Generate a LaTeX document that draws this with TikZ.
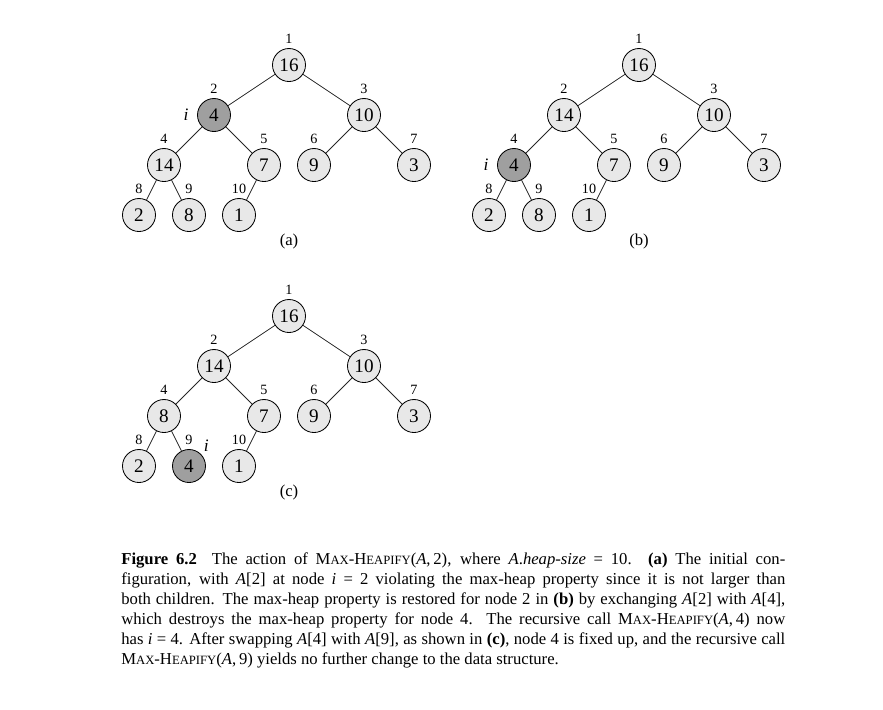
\documentclass[tikz,border=0pt]{standalone}
\usepackage{fontspec}
\setmainfont{Liberation Serif}
\usetikzlibrary{positioning}

\newcommand{\heapify}{M{\fontsize{7.6}{9}\selectfont AX}-H{\fontsize{7.6}{9}\selectfont EAPIFY}}

\begin{document}
\begin{tikzpicture}[
      x=0.6pt, y=0.6pt,
      on grid,
      node distance = 30pt and 45pt,
      key/.style = {
        circle,
        draw,
        line width=0.5pt,
        fill=gray!18,
        minimum size=19.8pt,
        inner sep=0pt,
        font=\fontsize{11.5}{12}\selectfont
      },
      hot/.style = {key, fill=gray!75},
      every label/.style = {font=\fontsize{8.5}{9}\selectfont, inner sep=0.5pt},
      label distance=1.8pt,
      ivar/.style = {font=\itshape\fontsize{10.5}{12}\selectfont, label distance=4.4pt},
      sub/.style = {font=\fontsize{10}{12}\selectfont},
      edge/.style = {line width=0.45pt, black!85},
      caption/.style = {
        anchor=north west,
        inner sep=0pt,
        text width=398.4pt,
        align=justify,
        font=\fontsize{10}{12}\selectfont
      }
    ]

    \useasboundingbox (0,0) rectangle (883,-709);

    % (a)
    \node[key, label=above:1]                              (a1)  at (289,-65) {16};
    \node[hot, below left=of a1, label=above:2, label={[ivar]left:i}] (a2) {4};
    \node[key, below right=of a1, label=above:3]           (a3)  {10};
    \node[key, below left=30pt and 30pt of a2, label=above:4]  (a4)  {14};
    \node[key, below right=30pt and 30pt of a2, label=above:5] (a5)  {7};
    \node[key, below left=30pt and 30pt of a3, label=above:6]  (a6)  {9};
    \node[key, below right=30pt and 30pt of a3, label=above:7] (a7)  {3};
    \node[key, below left=30pt and 15pt of a4, label=above:8]  (a8)  {2};
    \node[key, below right=30pt and 15pt of a4, label=above:9] (a9)  {8};
    \node[key, below left=30pt and 15pt of a5, label=above:10] (a10) {1};
    \node[sub] (alab) at (a1 |- a10) [yshift=-15.6pt] {(a)};

    \draw[edge] (a1) -- (a2) (a1) -- (a3) (a2) -- (a4) (a2) -- (a5) (a3) -- (a6)
                (a3) -- (a7) (a4) -- (a8) (a4) -- (a9) (a5) -- (a10);

    % (b)
    \node[key, label=above:1]                              (b1)  at (639,-65) {16};
    \node[key, below left=of b1, label=above:2]            (b2)  {14};
    \node[key, below right=of b1, label=above:3]           (b3)  {10};
    \node[hot, below left=30pt and 30pt of b2, label=above:4, label={[ivar]left:i}] (b4) {4};
    \node[key, below right=30pt and 30pt of b2, label=above:5] (b5)  {7};
    \node[key, below left=30pt and 30pt of b3, label=above:6]  (b6)  {9};
    \node[key, below right=30pt and 30pt of b3, label=above:7] (b7)  {3};
    \node[key, below left=30pt and 15pt of b4, label=above:8]  (b8)  {2};
    \node[key, below right=30pt and 15pt of b4, label=above:9] (b9)  {8};
    \node[key, below left=30pt and 15pt of b5, label=above:10] (b10) {1};
    \node[sub] (blab) at (b1 |- b10) [yshift=-15.6pt] {(b)};

    \draw[edge] (b1) -- (b2) (b1) -- (b3) (b2) -- (b4) (b2) -- (b5) (b3) -- (b6)
                (b3) -- (b7) (b4) -- (b8) (b4) -- (b9) (b5) -- (b10);

    % (c)
    \node[key, label=above:1]                              (c1)  at (289,-316) {16};
    \node[key, below left=of c1, label=above:2]            (c2)  {14};
    \node[key, below right=of c1, label=above:3]           (c3)  {10};
    \node[key, below left=30pt and 30pt of c2, label=above:4]  (c4)  {8};
    \node[key, below right=30pt and 30pt of c2, label=above:5] (c5)  {7};
    \node[key, below left=30pt and 30pt of c3, label=above:6]  (c6)  {9};
    \node[key, below right=30pt and 30pt of c3, label=above:7] (c7)  {3};
    \node[key, below left=30pt and 15pt of c4, label=above:8]  (c8)  {2};
    \node[hot, below right=30pt and 15pt of c4, label=above:9,
          label={[ivar, label distance=1.5pt]north east:i}]    (c9)  {4};
    \node[key, below left=30pt and 15pt of c5, label=above:10] (c10) {1};
    \node[sub] (clab) at (c1 |- c10) [yshift=-15.6pt] {(c)};

    \draw[edge] (c1) -- (c2) (c1) -- (c3) (c2) -- (c4) (c2) -- (c5) (c3) -- (c6)
                (c3) -- (c7) (c4) -- (c8) (c4) -- (c9) (c5) -- (c10);

    % caption
    \node[caption] (cap) at (121,-552.5) {\hyphenpenalty=10000\tolerance=9999
      \textbf{Figure 6.2}\hspace{0.9em}The action of \heapify(\textit{A},\,2), where
      \textit{A}.\textit{heap-size} = 10. \textbf{(a)} The initial con-\linebreak
      figuration, with \textit{A}[2] at node \textit{i} = 2 violating the max-heap
      property since it is not larger than\linebreak
      both children. The max-heap property is restored for node 2 in \textbf{(b)} by
      exchanging \textit{A}[2] with \textit{A}[4],\linebreak
      which destroys the max-heap property for node 4. The recursive call
      \heapify(\textit{A},\,4) now\linebreak
      has \textit{i} = 4. After swapping \textit{A}[4] with \textit{A}[9], as shown in
      \textbf{(c)}, node 4 is fixed up, and the recursive call\linebreak
      \heapify(\textit{A},\,9) yields no further change to the data structure.};

  \end{tikzpicture}
\end{document}
